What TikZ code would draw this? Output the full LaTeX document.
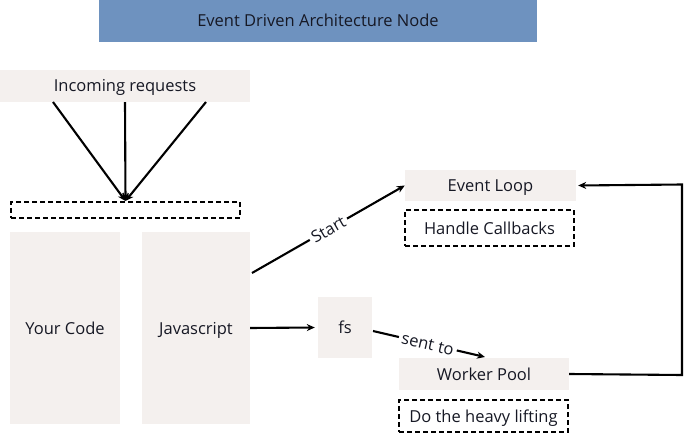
\documentclass[tikz,border=0pt]{standalone}
\usepackage{fontspec}
\setmainfont{Open Sans}
\usetikzlibrary{arrows.meta}
\definecolor{boxfill}{RGB}{244,240,238}
\definecolor{titlefill}{RGB}{110,146,191}
\definecolor{txt}{RGB}{22,24,36}
\begin{document}
\begin{tikzpicture}[x=1pt,y=-1pt,
  every node/.style={font=\fontsize{16.5}{19}\selectfont, text=txt, inner sep=0pt, text height=12pt, text depth=0pt},
  lightbox/.style={fill=boxfill, draw=none},
  dashbox/.style={draw=black, line width=2.1pt, dash pattern=on 5pt off 3pt},
  conn/.style={draw=black, line width=2.1pt, -{Stealth[length=8pt,width=7pt]}},
  lbl/.style={fill=white, sloped, inner xsep=3pt, inner ysep=1pt}]
\useasboundingbox (0,0) rectangle (686,436);
\node[fill=titlefill, minimum width=438pt, minimum height=42pt] (title) at (318,21) {Event Driven Architecture Node};
\node[lightbox, minimum width=250pt, minimum height=32pt] (incoming) at (125,86) {Incoming requests};
\node[dashbox, minimum width=229pt, minimum height=16pt] (queue) at (125.5,210) {};
\node[lightbox, minimum width=110pt, minimum height=192pt] (code) at (65,328) {Your Code};
\node[lightbox, minimum width=108pt, minimum height=192pt] (js) at (196,328) {Javascript};
\node[lightbox, minimum width=171pt, minimum height=31pt] (loop) at (490.5,185.5) {Event Loop};
\node[dashbox, minimum width=169pt, minimum height=36pt] (callbacks) at (489.5,228) {Handle Callbacks};
\node[lightbox, minimum width=54pt, minimum height=61pt] (fs) at (345,327.5) {fs};
\node[lightbox, minimum width=170pt, minimum height=32pt] (worker) at (484,374) {Worker Pool};
\node[dashbox, minimum width=169pt, minimum height=32pt] (heavy) at (483.5,416) {Do the heavy lifting};
\coordinate (in1) at (53,102);
\coordinate (in3) at (206,102);
\coordinate (qtop) at (125.5,201);
\draw[conn] (in1) -- (qtop);
\draw[conn] (incoming.south) -- (qtop);
\draw[conn] (in3) -- (qtop);
\coordinate (jsstart) at (252,273);
\draw[conn] (jsstart) -- node[lbl] {Start} (loop.west);
\draw[conn] (js.east) -- ([xshift=-3pt]fs.west);
\coordinate (fsout) at (373,331);
\coordinate (wtop) at (485,357);
\draw[conn] (fsout) -- node[lbl, pos=0.49] {sent to} (wtop);
\coordinate (c1) at (682,375);
\coordinate (c2) at (682,184.5);
\draw[conn] (worker.east) -- (c1) -- (c2) -- ([xshift=2pt]loop.east);
\end{tikzpicture}
\end{document}
